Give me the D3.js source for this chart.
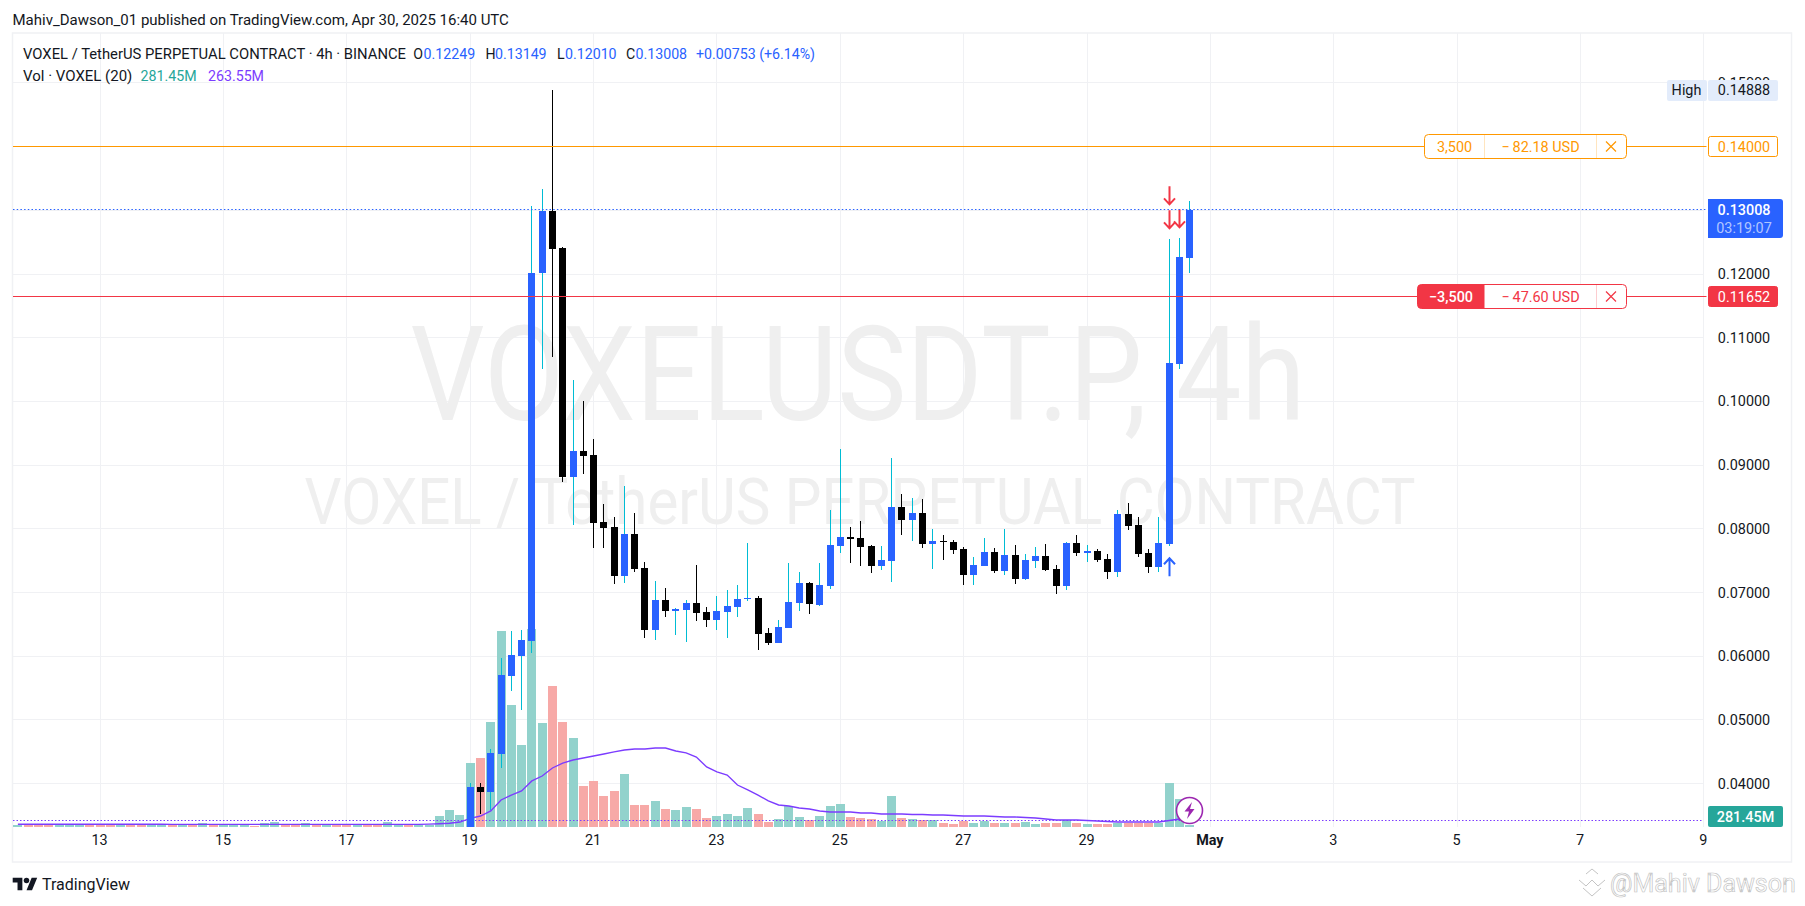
<!DOCTYPE html>
<html>
<head>
<meta charset="utf-8">
<script src="https://cdn.jsdelivr.net/npm/d3@7"></script>
<style>
  html, body { margin: 0; padding: 0; background: #fff; }
  svg { display: block; }
  text { font-family: Roboto, sans-serif; }
</style>
</head>
<body>
<script>
// 4h candles, starting with the Apr 19 00:00 bar.
const open = [
  .030,.03951,.03868,.04464,.05689,.06003,.06238,.12016,.12990,.12408,
  .08813,.09221,.09158,.08107,.08028,.07259,.07918,.07385,.06411,.06882,
  .06710,.06725,.06835,.06694,.06568,.06694,.06772,.06898,.06913,.06364,
  .06207,.06443,.06835,.07149,.06804,.07102,.07730,.07871,.07855,.07730,
  .07416,.07494,.08342,.08138,.08248,.07761,.07808,.07792,.07683,.07275,
  .07416,.07636,.07338,.07589,.07212,.07494,.07573,.07369,.07102,.07777,
  .07620,.07651,.07526,.07322,.08232,.08060,.07620,.07400,.07761,.10587,.12249];
const high = [
  .04004,.04004,.04538,.05971,.06395,.06411,.13068,.13335,.14888,.12424,
  .10336,.10006,.09405,.08389,.08185,.08672,.08248,.07479,.07181,.07071,
  .06757,.06882,.07432,.06772,.06945,.07040,.07118,.07777,.06945,.06443,
  .06568,.07463,.07322,.07165,.07463,.08295,.09253,.08028,.08122,.07746,
  .07730,.09112,.08546,.08483,.08468,.07997,.07902,.07824,.07714,.07557,
  .07855,.07698,.07997,.07746,.07604,.07714,.07761,.07432,.07792,.07902,
  .07746,.07683,.07604,.08295,.08405,.08185,.07683,.08185,.12549,.12565,.13149];
const low = [
  .030,.03522,.03585,.04244,.05453,.05155,.06050,.10509,.10697,.08735,
  .08059,.08860,.07698,.07698,.07133,.07149,.07322,.06285,.06254,.06616,
  .06333,.06223,.06552,.06458,.06411,.06285,.06616,.06867,.06097,.06175,
  .06207,.06443,.06710,.06663,.06788,.07055,.07620,.07463,.07416,.07306,
  .07353,.07165,.07902,.07808,.07698,.07369,.07510,.07604,.07118,.07118,
  .07416,.07306,.07275,.07133,.07196,.07385,.07338,.06976,.07040,.07573,
  .07479,.07479,.07212,.07243,.07981,.07557,.07306,.07322,.07730,.10509,.12010];
const close = [
  .03946,.03868,.04480,.05704,.06019,.06254,.12016,.12990,.12393,.08813,
  .09221,.09143,.08091,.08013,.07259,.07918,.07369,.06411,.06882,.06710,
  .06741,.06835,.06678,.06568,.06710,.06788,.06898,.06913,.06348,.06207,
  .06458,.06851,.07149,.06820,.07118,.07746,.07871,.07840,.07714,.07416,
  .07510,.08342,.08138,.08248,.07761,.07808,.07792,.07667,.07275,.07432,
  .07636,.07338,.07589,.07212,.07510,.07573,.07353,.07102,.07777,.07620,
  .07651,.07510,.07322,.08232,.08044,.07604,.07400,.07777,.10602,.12267,.13008];

// volume in millions, same bars
const volume = [
  2590,2795,4250,7940,4940,3320,8020,4210,5710,4250,
  3600,1660,1860,1255,1460,2145,890,890,1055,730,
  690,810,730,365,445,525,445,770,525,200,
  325,850,405,285,445,850,930,405,365,325,
  245,1255,365,325,285,285,160,120,245,160,
  245,160,160,160,200,120,160,160,285,160,
  120,120,120,160,160,160,160,160,1780,1135,100];
const volumeMa = [
  350,445,650,1095,1295,1460,1865,2065,2390,2590,
  2715,2795,2875,2955,3040,3120,3160,3160,3200,3200,
  3080,3000,2835,2430,2230,2105,1700,1500,1295,1055,
  890,850,770,730,650,610,610,610,565,565,
  525,525,525,505,505,485,485,465,445,445,
  445,425,405,405,385,365,325,285,285,285,
  265,245,225,200,200,200,200,200,265,325,263.55];

// bars before Apr 19: the candles sit under the visible price range, only volume shows
const earlyVolume = [80,70,70,70,70,75,75,65,65,65,70,65,65,75,75,65,70,65,170,65,75,75,75,60,150,200,65,65,160,65,75,65,65,70,65,65,200,80,65,70,75,445,690,485];
const earlyUp = [1,0,0,0,1,1,1,0,0,0,1,0,0,1,1,0,1,0,1,0,1,1,1,0,1,1,0,0,1,0,1,0,0,1,0,0,1,1,0,1,1,1,1,1];
const earlyMa = [110,110,110,110,110,110,110,110,110,110,110,110,110,110,110,105,105,105,105,105,105,105,105,105,105,105,105,105,105,105,105,105,105,105,105,105,105,105,105,105,115,130,150,200];

const priceTicks = [.15,.14,.13,.12,.11,.10,.09,.08,.07,.06,.05,.04];
const timeTicks = [
  [new Date(Date.UTC(2025,3,13)), "13"], [new Date(Date.UTC(2025,3,15)), "15"],
  [new Date(Date.UTC(2025,3,17)), "17"], [new Date(Date.UTC(2025,3,19)), "19"],
  [new Date(Date.UTC(2025,3,21)), "21"], [new Date(Date.UTC(2025,3,23)), "23"],
  [new Date(Date.UTC(2025,3,25)), "25"], [new Date(Date.UTC(2025,3,27)), "27"],
  [new Date(Date.UTC(2025,3,29)), "29"], [new Date(Date.UTC(2025,4,1)), "May"],
  [new Date(Date.UTC(2025,4,3)), "3"],   [new Date(Date.UTC(2025,4,5)), "5"],
  [new Date(Date.UTC(2025,4,7)), "7"],   [new Date(Date.UTC(2025,4,9)), "9"]];

const lastClose = .13008, maLast = 263.55;
const sellSignals = [[68, .13377], [68, .13], [69, .13015]];  // bar index, price at arrow tail
const buySignals = [[68, .07254]];

const width = 1805, height = 906;
const pane = {left: 13, right: 1703, top: 33, bottom: 827};
const BAR_MS = 4 * 3600 * 1000;
const t0 = Date.UTC(2025,3,19);
const barDate = i => new Date(t0 + i * BAR_MS);

const colors = {up: "#2962FF", upWick: "#00BCD4", down: "#000000", teal: "#26A69A",
  volUp: "#92D2CC", volDown: "#F7A9A7", ma: "#7C3CFF", orange: "#FF9800", red: "#F23645",
  grid: "#F0F1F4", text: "#131722", tag: "#E3ECFB", mark: "#EFEFEF"};

const x = d3.scaleUtc()
  .domain([new Date(t0), new Date(Date.UTC(2025,4,1))])
  .range([470.2, 1210.36]);
const y = d3.scaleLinear().domain([.04, .12]).range([783.5, 274]);
const yVol = d3.scaleLinear().domain([0, 8100]).range([827, 627]);
const px = d => Math.floor(x(d));
const py = p => Math.floor(y(p)) + .5;

const svg = d3.select("body").append("svg")
  .attr("width", width).attr("height", height);

svg.append("defs").append("clipPath").attr("id", "pane")
  .append("rect")
  .attr("x", pane.left).attr("y", pane.top)
  .attr("width", pane.right - pane.left).attr("height", pane.bottom - pane.top);

// header
svg.append("text").attr("x", 12.5).attr("y", 25).attr("font-size", 15).attr("fill", colors.text)
  .text("Mahiv_Dawson_01 published on TradingView.com, Apr 30, 2025 16:40 UTC");

// frame
svg.append("rect").attr("x", 12.5).attr("y", 33).attr("width", 1779).attr("height", 829)
  .attr("fill", "none").attr("stroke", "#F0F1F4").attr("stroke-width", 1.5);

// grid
const grid = svg.append("g").attr("stroke", colors.grid).attr("shape-rendering", "crispEdges");
grid.selectAll(".h").data(priceTicks).join("line")
  .attr("x1", pane.left).attr("x2", pane.right)
  .attr("y1", py).attr("y2", py);
grid.selectAll(".v").data(timeTicks).join("line")
  .attr("x1", d => px(d[0]) + .5).attr("x2", d => px(d[0]) + .5)
  .attr("y1", pane.top).attr("y2", pane.bottom);

// watermarks
const mark = svg.append("g").attr("clip-path", "url(#pane)").attr("fill", colors.mark).attr("text-anchor", "middle");
mark.append("text").attr("x", 858).attr("y", 420).attr("font-size", 132)
  .attr("textLength", 895).attr("lengthAdjust", "spacingAndGlyphs").text("VOXELUSDT.P, 4h");
mark.append("text").attr("x", 860).attr("y", 524).attr("font-size", 64)
  .attr("textLength", 1111).attr("lengthAdjust", "spacingAndGlyphs").text("VOXEL / TetherUS PERPETUAL CONTRACT");

const chart = svg.append("g").attr("clip-path", "url(#pane)");

// volume
const volBars = [
  ...earlyVolume.map((v, k) => ({i: k - earlyVolume.length, v, up: earlyUp[k]})),
  ...volume.map((v, i) => ({i, v, up: close[i] >= open[i]}))];
chart.append("g").attr("shape-rendering", "crispEdges").selectAll("rect").data(volBars).join("rect")
  .attr("x", d => px(barDate(d.i)) - 4)
  .attr("width", 9)
  .attr("y", d => yVol(d.v))
  .attr("height", d => yVol(0) - yVol(d.v))
  .attr("fill", d => d.up ? colors.volUp : colors.volDown);

const maPoints = [
  ...earlyMa.map((v, k) => [k - earlyMa.length, v]),
  ...volumeMa.map((v, i) => [i, v])];
chart.append("path")
  .attr("d", d3.line().x(d => x(barDate(d[0]))).y(d => yVol(d[1]))(maPoints))
  .attr("fill", "none").attr("stroke", colors.ma).attr("stroke-width", 1.4);

// vol ma level
chart.append("line").attr("x1", pane.left).attr("x2", pane.right)
  .attr("y1", Math.floor(yVol(maLast)) + .5).attr("y2", Math.floor(yVol(maLast)) + .5)
  .attr("stroke", colors.ma).attr("stroke-width", 1).attr("stroke-dasharray", "1.5 2");

// candles
const candle = chart.append("g").attr("shape-rendering", "crispEdges")
  .selectAll("g").data(d3.range(open.length)).join("g");
candle.append("line")
  .attr("x1", i => px(barDate(i)) + .5).attr("x2", i => px(barDate(i)) + .5)
  .attr("y1", i => y(high[i])).attr("y2", i => y(low[i]))
  .attr("stroke", i => close[i] >= open[i] ? colors.upWick : colors.down);
candle.append("rect")
  .attr("x", i => px(barDate(i)) - 3).attr("width", 7)
  .attr("y", i => y(Math.max(open[i], close[i])))
  .attr("height", i => Math.max(1, Math.abs(y(open[i]) - y(close[i]))))
  .attr("fill", i => close[i] >= open[i] ? colors.up : colors.down);

// trade arrows
function arrow(sel, dir, color) {
  sel.append("path")
    .attr("d", `M0,0V${dir * 18}M-5.5,${dir * 12}L0,${dir * 18}L5.5,${dir * 12}`)
    .attr("fill", "none").attr("stroke", color).attr("stroke-width", 2);
}
sellSignals.forEach(([i, p]) => {
  arrow(svg.append("g").attr("transform", `translate(${px(barDate(i)) + .5},${y(p)})`), 1, colors.red);
});
buySignals.forEach(([i, p]) => {
  arrow(svg.append("g").attr("transform", `translate(${px(barDate(i)) + .5},${y(p)})`), -1, colors.up);
});

// lightning badge on the last bar
const badge = svg.append("g").attr("transform", `translate(${px(barDate(70)) + .5},810.5)`);
badge.append("circle").attr("r", 13).attr("fill", "#fff").attr("stroke", "#9C27B0").attr("stroke-width", 1.6);
badge.append("path").attr("d", "M2.5,-8.5L-5,1H-.5L-2.5,8.5L5,-1.5H.5Z").attr("fill", "#9C27B0");

// axes
const yAxis = d3.axisRight(y).tickValues(priceTicks).tickSize(0).tickPadding(0).tickFormat(d => d.toFixed(5));
const yG = svg.append("g").attr("transform", "translate(1744,0)").call(yAxis);
yG.select(".domain").remove();
yG.selectAll("text").attr("text-anchor", "middle").attr("font-size", 14.4).attr("fill", colors.text).attr("font-family", "Roboto, sans-serif");

const labelOf = new Map(timeTicks.map(([d, l]) => [+d, l]));
const xAxis = d3.axisBottom(x).tickValues(timeTicks.map(d => d[0])).tickSize(0).tickPadding(0).tickFormat(d => labelOf.get(+d));
const xG = svg.append("g").attr("transform", "translate(-1,835)").call(xAxis);
xG.select(".domain").remove();
xG.selectAll("text").attr("font-size", 14.4).attr("fill", colors.text).attr("font-family", "Roboto, sans-serif")
  .attr("font-weight", d => labelOf.get(+d) === "May" ? 700 : 400);

// price lines and order tags
function level(p, color, dash) {
  svg.append("line").attr("x1", pane.left).attr("x2", 1706.5)
    .attr("y1", py(p)).attr("y2", py(p))
    .attr("stroke", color).attr("stroke-dasharray", dash || null);
}
level(.14, colors.orange);
level(lastClose, colors.up, "1.5 2.2");
level(.11652, colors.red);

function orderTag(p, color, qty, pnl, filled) {
  const g = svg.append("g").attr("transform", `translate(0,${py(p)})`);
  const left = filled ? 1417.5 : 1424.5;
  g.append("rect").attr("x", left).attr("y", -12).attr("width", 1626.5 - left).attr("height", 24)
    .attr("rx", 4).attr("fill", "#fff").attr("stroke", color);
  if (filled) {
    g.append("path").attr("d", `M1484.5,-12H${left + 4}a4,4 0 0 0 -4,4V8a4,4 0 0 0 4,4H1484.5Z`).attr("fill", color);
  } else {
    g.append("line").attr("x1", 1484.5).attr("x2", 1484.5).attr("y1", -12).attr("y2", 12).attr("stroke", color).attr("stroke-opacity", .25);
  }
  g.append("line").attr("x1", 1596.5).attr("x2", 1596.5).attr("y1", -12).attr("y2", 12).attr("stroke", color).attr("stroke-opacity", .25);
  g.append("text").attr("x", filled ? 1451 : 1454.5).attr("y", 5).attr("text-anchor", "middle").attr("font-size", 14.4)
    .attr("fill", filled ? "#fff" : color).attr("font-weight", filled ? 500 : 400).text(qty);
  g.append("text").attr("x", 1540.5).attr("y", 5).attr("text-anchor", "middle").attr("font-size", 14.4)
    .attr("fill", color).text(pnl);
  g.append("path").attr("d", "M1606,-5L1616,5M1616,-5L1606,5").attr("stroke", color).attr("stroke-width", 1.2).attr("fill", "none");
}
orderTag(.14, colors.orange, "3,500", "\u2212\u200982.18 USD", false);
orderTag(.11652, colors.red, "\u22123,500", "\u2212\u200947.60 USD", true);

// price scale tags
function scaleTag(p, label, fill, stroke, color) {
  const cy = py(p);
  svg.append("rect").attr("x", 1708.5).attr("y", cy - 10).attr("width", 69).attr("height", 20).attr("rx", 2)
    .attr("fill", fill).attr("stroke", stroke);
  svg.append("text").attr("x", 1744).attr("y", cy + 5).attr("text-anchor", "middle").attr("font-size", 14.4)
    .attr("fill", color).text(label);
}
scaleTag(.14, "0.14000", "#fff", colors.orange, colors.orange);
scaleTag(.11652, "0.11652", colors.red, colors.red, "#fff");

// last price tag with countdown
svg.append("path").attr("d", "M1708,199H1780a3,3 0 0 1 3,3V235a3,3 0 0 1 -3,3H1708Z").attr("fill", colors.up);
svg.append("text").attr("x", 1744).attr("y", 215).attr("text-anchor", "middle").attr("font-size", 14.4).attr("font-weight", 500).attr("fill", "#fff").text("0.13008");
svg.append("text").attr("x", 1744).attr("y", 233).attr("text-anchor", "middle").attr("font-size", 14.4).attr("fill", "#fff").attr("fill-opacity", .65).text("03:19:07");

// high tag
svg.append("rect").attr("x", 1667).attr("y", 80).attr("width", 40).attr("height", 21).attr("rx", 2).attr("fill", colors.tag);
svg.append("rect").attr("x", 1708).attr("y", 80).attr("width", 70).attr("height", 21).attr("rx", 2).attr("fill", colors.tag);
svg.append("text").attr("x", 1686.5).attr("y", 95).attr("text-anchor", "middle").attr("font-size", 14.4).attr("fill", colors.text).text("High");
svg.append("text").attr("x", 1744).attr("y", 95).attr("text-anchor", "middle").attr("font-size", 14.4).attr("fill", colors.text).text("0.14888");

// volume tag
svg.append("rect").attr("x", 1708).attr("y", 806).attr("width", 75).attr("height", 21).attr("rx", 2).attr("fill", colors.teal);
svg.append("text").attr("x", 1745.5).attr("y", 822).attr("text-anchor", "middle").attr("font-size", 14.4).attr("font-weight", 500).attr("fill", "#fff").text("281.45M");

// legend
const legend = svg.append("g").attr("font-size", 14.2);
[[23, "VOXEL / TetherUS PERPETUAL CONTRACT \u00b7 4h \u00b7 BINANCE", colors.text, 14.8],
 [413.3, "O", colors.text], [423.6, "0.12249", colors.up],
 [485.6, "H", colors.text], [495, "0.13149", colors.up],
 [557, "L", colors.text], [565, "0.12010", colors.up],
 [626, "C", colors.text], [635.5, "0.13008", colors.up],
 [696, "+0.00753 (+6.14%)", colors.up]].forEach(([lx, t, c, fs]) => {
  legend.append("text").attr("x", lx).attr("y", 59).attr("fill", c).attr("font-size", fs || null).text(t);
});
[[23, "Vol \u00b7 VOXEL (20)", colors.text, 15], [140.6, "281.45M", colors.teal], [208, "263.55M", colors.ma]].forEach(([lx, t, c, fs]) => {
  legend.append("text").attr("x", lx).attr("y", 80.5).attr("fill", c).attr("font-size", fs || null).text(t);
});

// footer logo
const logo = svg.append("g").attr("transform", "translate(12.7,875) scale(.69)").attr("fill", colors.text);
logo.append("path").attr("d", "M14 22H7V11H0V4h14v18zM28 22h-8l7.5-18h8L28 22z");
logo.append("circle").attr("cx", 20).attr("cy", 8).attr("r", 4);
svg.append("text").attr("x", 42).attr("y", 890).attr("font-size", 16).attr("fill", colors.text).text("TradingView");

// uploader stamp bottom right
const stamp = svg.append("g").attr("fill", "#fff").attr("stroke", "#C4C4C4").attr("stroke-width", .7);
stamp.append("text").attr("x", 1610).attr("y", 892).attr("font-size", 25).text("@Mahiv Dawson");
stamp.append("path").attr("fill", "none").attr("stroke-width", 1)
  .attr("d", "M1579,880L1586,886L1592,880L1598,886L1605,880M1586,874L1592,869L1598,874M1583,888L1592,896L1601,888");
</script>
</body>
</html>
